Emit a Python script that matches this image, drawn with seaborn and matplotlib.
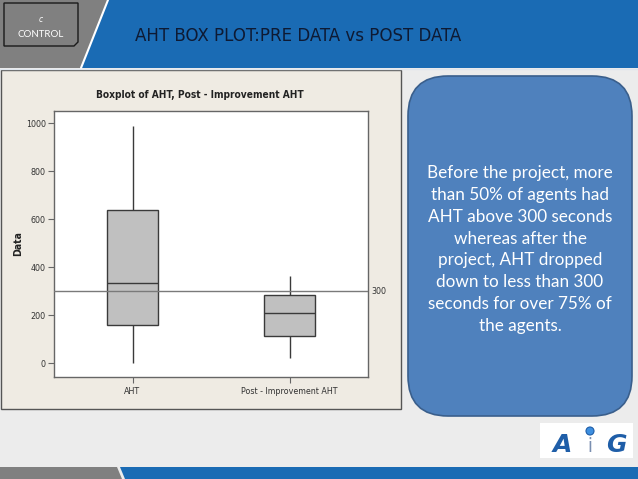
import numpy as np
import pandas as pd
import seaborn as sns
import matplotlib.pyplot as plt
from matplotlib.patches import Rectangle, Polygon, FancyBboxPatch, Circle
import matplotlib.transforms as mtransforms

# five-number summaries
groups = ["AHT", "Post - Improvement AHT"]
aht_summary = [0, 160, 336, 639, 989]
post_summary = [21, 115, 208, 285, 364]
threshold = 300
y_ticks = [0, 200, 400, 600, 800, 1000]

slide_title = "AHT BOX PLOT:PRE DATA vs POST DATA"
chart_title = "Boxplot of AHT, Post - Improvement AHT"
note = ("Before the project, more\nthan 50% of agents had\nAHT above 300 seconds\n"
        "whereas after the\nproject, AHT dropped\ndown to less than 300\n"
        "seconds for over 75% of\nthe agents.")

df = pd.DataFrame({
    "group": [groups[0]] * len(aht_summary) + [groups[1]] * len(post_summary),
    "value": aht_summary + post_summary,
})

sns.set_theme(style="white")
plt.rcParams['font.family'] = ['DejaVu Sans']
plt.rcParams['font.stretch'] = 'condensed'

W, H = 638, 479
fig = plt.figure(figsize=(W / 100, H / 100), dpi=100)

# slide background drawn in pixel coordinates
bg = fig.add_axes([0, 0, 1, 1], zorder=-1)
bg.set_xlim(0, W)
bg.set_ylim(H, 0)
bg.axis("off")
bg.add_patch(Rectangle((0, 0), W, H, facecolor="#ececec", edgecolor="none"))

# top banner
blue = "#1a6bb4"
bg.add_patch(Rectangle((0, 0), W, 68, facecolor=blue, edgecolor="none"))
bg.add_patch(Polygon([(0, 0), (108, 0), (81, 68), (0, 68)], facecolor="#808080", edgecolor="none"))
bg.plot([108, 81], [0, 68], color="white", lw=1.5)
bg.plot([0, W], [68.5, 68.5], color="#dfe6ee", lw=1)
bg.add_patch(Polygon([(4, 3), (78, 3), (78, 42), (74, 46), (4, 46)],
                     facecolor="#808080", edgecolor="#1a1a1a", lw=1))
bg.text(41, 19, "c", color="white", fontsize=6, style="italic", ha="center", va="center")
bg.text(41, 34, "CONTROL", color="white", fontsize=7, ha="center", va="center",
        family=["Lato", "DejaVu Sans"], fontstretch="normal")
bg.text(298, 36, slide_title, color="#0e1a33", fontsize=13.3, ha="center", va="center")

# bottom band
bg.add_patch(Polygon([(0, 467), (117, 467), (122, 479), (0, 479)], facecolor="#808080", edgecolor="none"))
bg.add_patch(Polygon([(120, 467), (W, 467), (W, 479), (125, 479)], facecolor=blue, edgecolor="none"))

# chart panel
bg.add_patch(Rectangle((1, 70), 400, 339, facecolor="#efebe3", edgecolor="#555555", lw=1))
bg.text(200, 95, chart_title, color="#222222", fontsize=7.3, fontweight="bold", ha="center", va="center")

# note box
bg.add_patch(FancyBboxPatch((408, 76), 224, 340, boxstyle="round,pad=0,rounding_size=40",
                            facecolor="#4f81bd", edgecolor="#3a5f8c", lw=1.2))
bg.text(520, 249.5, note, color="white", fontsize=12.3, ha="center", va="center",
        linespacing=1.45, family=["Lato", "DejaVu Sans"], fontstretch="normal")

# logo
bg.add_patch(Rectangle((540, 423), 93, 35, facecolor="white", edgecolor="none"))
bg.text(562, 445, "A", color="#1f5ea8", fontsize=18, fontweight="heavy", style="italic",
        ha="center", va="center", fontstretch="normal")
bg.text(590, 447, "i", color="#7a8fb0", fontsize=14, ha="center", va="center")
bg.add_patch(Circle((590, 431), 4, facecolor="#3d8fe0", edgecolor="#1f5ea8", lw=0.8))
bg.text(616, 445, "G", color="#1f5ea8", fontsize=18, fontweight="heavy", style="italic",
        ha="center", va="center", fontstretch="normal")

# boxplot axes
ax = fig.add_axes([54 / W, (H - 377) / H, 314 / W, 266 / H])
ax.set_facecolor("white")
sns.boxplot(data=df, x="group", y="value", whis=(0, 100), width=0.33,
            color="#c0c0c0", saturation=1, linecolor="#3a3a3a", linewidth=1,
            showcaps=False, ax=ax)
ax.axhline(threshold, color="#7a7a7a", lw=1, zorder=5)
trans = mtransforms.blended_transform_factory(ax.transAxes, ax.transData)
ax.text(1.012, threshold, str(threshold), transform=trans, fontsize=6.4, color="#333333",
        ha="left", va="center")

ax.set_xlim(-0.5, 1.5)
ax.set_ylim(-57, 1051)
ax.set_yticks(y_ticks)
ax.set_yticklabels([str(v) for v in y_ticks])
ax.tick_params(axis="both", which="both", length=4, width=0.8, color="#666666",
               labelsize=6.4, labelcolor="#333333", left=True, bottom=True, pad=2)
ax.tick_params(axis="x", pad=3)
for s in ax.spines.values():
    s.set_color("#666666")
    s.set_linewidth(1)
ax.set_xlabel("")
ax.set_ylabel("Data", fontsize=7.5, fontweight="bold", color="#222222")
ax.yaxis.set_label_coords((23 - 54) / 314, 0.5)

fig.savefig("out.png", dpi=100)
